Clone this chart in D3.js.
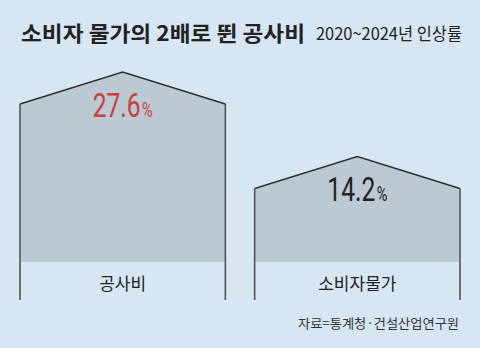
<!DOCTYPE html>
<html>
<head>
<meta charset="utf-8">
<script src="https://cdn.jsdelivr.net/npm/d3@7"></script>
<style>
  html, body { margin: 0; padding: 0; background: #d7e6f3; }
  svg { display: block; }
</style>
</head>
<body>
<svg id="chart" width="480" height="348"></svg>
<script>
// Cost increase 2020~2024: construction cost vs consumer prices
const categories = ["공사비", "소비자물가"];
const values = [27.6, 14.2];
const valueColors = ["#c9403d", "#222222"];
const titleText = "소비자 물가의 2배로 뛴 공사비";
const subtitleText = "2020~2024년 인상률";
const sourceText = "자료=통계청·건설산업연구원";

const W = 480, H = 348;
const svg = d3.select("#chart");

// horizontal band per house
const x = d3.scaleBand()
  .domain(categories)
  .range([20, 460])
  .paddingInner(0.125)
  .paddingOuter(0);

// value -> height of the mid-roof line above the floor
const floorY = 262;
const y = d3.scaleLinear().domain([0, 27.6]).range([floorY, 88]);

const roofRise = 16;   // half of the roof height
const wallBottom = 300;
const labelWidth = 60; // condensed width of "nn.n%"

const houses = svg.append("g");

categories.forEach((c, i) => {
  const x0 = x(c), x1 = x(c) + x.bandwidth(), cx = (x0 + x1) / 2;
  const vy = y(values[i]);
  const eave = vy + roofRise, peak = vy - roofRise;

  // filled body
  houses.append("path")
    .attr("d", d3.line()([[x0, floorY], [x0, eave], [cx, peak], [x1, eave], [x1, floorY]]) + "Z")
    .attr("fill", "#bac9d2");

  // roof outline
  houses.append("path")
    .attr("d", d3.line()([[x0, eave], [cx, peak], [x1, eave]]))
    .attr("fill", "none")
    .attr("stroke", "#2e2e2e")
    .attr("stroke-width", 1.4);

  // walls
  [x0, x1].forEach(wx => {
    houses.append("line")
      .attr("x1", wx).attr("x2", wx)
      .attr("y1", eave).attr("y2", wallBottom)
      .attr("stroke", "#555")
      .attr("stroke-width", 1.6);
  });

  // value label: number and smaller percent sign, squeezed horizontally
  const g = houses.append("g");
  const num = g.append("text")
    .attr("x", 0).attr("y", 0)
    .attr("font-family", "Roboto, 'Noto Sans', sans-serif")
    .attr("font-size", 34)
    .attr("fill", valueColors[i])
    .text(values[i].toFixed(1));
  const numW = num.node().getComputedTextLength();
  const pct = g.append("text")
    .attr("x", numW + 2).attr("y", 0)
    .attr("font-family", "Roboto, 'Noto Sans', sans-serif")
    .attr("font-size", 20)
    .attr("fill", valueColors[i])
    .text("%");
  const total = numW + 2 + pct.node().getComputedTextLength();
  const sx = labelWidth / total;
  g.attr("transform", `translate(${cx - labelWidth / 2},${vy + 29}) scale(${sx},1)`);

  // category label
  houses.append("text")
    .attr("x", cx)
    .attr("y", 290)
    .attr("text-anchor", "middle")
    .attr("font-family", "'Noto Sans CJK KR', sans-serif")
    .attr("font-size", 17)
    .attr("fill", "#222")
    .text(c);
});

// title
svg.append("text")
  .attr("x", 21).attr("y", 41)
  .attr("textLength", 284)
  .attr("lengthAdjust", "spacingAndGlyphs")
  .attr("font-family", "'Noto Sans CJK KR', sans-serif")
  .attr("font-weight", 700)
  .attr("font-size", 21)
  .attr("fill", "#222")
  .text(titleText);

svg.append("text")
  .attr("x", 316).attr("y", 40)
  .attr("textLength", 146)
  .attr("lengthAdjust", "spacingAndGlyphs")
  .attr("font-family", "'Noto Sans CJK KR', sans-serif")
  .attr("font-size", 17)
  .attr("fill", "#222")
  .text(subtitleText);

// source
svg.append("text")
  .attr("x", 459).attr("y", 328)
  .attr("text-anchor", "end")
  .attr("textLength", 161)
  .attr("lengthAdjust", "spacingAndGlyphs")
  .attr("font-family", "'Noto Sans CJK KR', sans-serif")
  .attr("font-size", 13)
  .attr("fill", "#333")
  .text(sourceText);
</script>
</body>
</html>
